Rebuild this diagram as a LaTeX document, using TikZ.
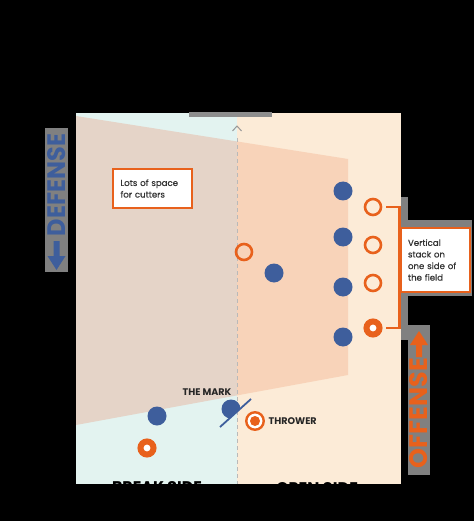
\documentclass[tikz,border=0pt]{standalone}
\usepackage{graphicx}
\usepackage{fontspec}
\setmainfont{Poppins}
\definecolor{tealbg}{HTML}{E3F3F0}
\definecolor{creambg}{HTML}{FCEBD7}
\definecolor{beigeov}{HTML}{E5D4C8}
\definecolor{peachov}{HTML}{F8D3B9}
\definecolor{pblue}{HTML}{3E5E9C}
\definecolor{porange}{HTML}{E8611C}
\definecolor{barg}{HTML}{808080}
\tikzset{
  bluedot/.style={circle,fill=pblue,minimum size=19pt,inner sep=0pt},
  oring/.style={circle,draw=porange,line width=2.6pt,minimum size=16pt,inner sep=0pt},
  obull/.style={circle,draw=porange,fill=white,line width=6pt,minimum size=13pt,inner sep=0pt},
  othrow/.style={circle,draw=porange,fill=white,line width=2.4pt,minimum size=17.5pt,inner sep=0pt},
  odot/.style={circle,fill=porange,minimum size=10pt,inner sep=0pt},
  callout/.style={draw=porange,line width=2pt,fill=white,align=left,anchor=north west,
    font=\fontsize{8.6}{11.6}\selectfont\addfontfeature{FakeBold=0.6},text=black!80},
  lbl/.style={font=\bfseries\fontsize{9.6}{10}\selectfont,text=black!85},
  bracket/.style={draw=porange,line width=2.4pt},
}
\begin{document}
\begin{tikzpicture}[x=1pt,y=-1pt]
\fill[black] (0,0) rectangle (474,521);
\useasboundingbox (0,0) rectangle (474,521);
% field
\fill[tealbg] (76,113) rectangle (237,484);
\fill[creambg] (237,113) rectangle (401,484);
\begin{scope}
\clip (76,113) rectangle (237,484);
\fill[beigeov] (76,116) -- (348,159) -- (348,375) -- (76,425) -- cycle;
\end{scope}
\begin{scope}
\clip (237,113) rectangle (401,484);
\fill[peachov] (76,116) -- (348,159) -- (348,375) -- (76,425) -- cycle;
\end{scope}
% top strip
\fill[barg!90] (189,112) rectangle (272,117);
% dashed center line and chevron
\coordinate (ctop) at (237,138);
\coordinate (cbot) at (237,484);
\draw[gray!55,line width=0.9pt,dash pattern=on 4pt off 3pt] (ctop) -- (cbot);
\draw[gray!80,line width=1pt] (232.5,131) -- (237,126) -- (241.5,131);
% gray bars
\fill[barg] (45,128) rectangle (68,272);
\fill[barg] (408,325) rectangle (430,475);
\fill[barg] (401,197) rectangle (408,340);
\fill[barg] (401,220) rectangle (472,296);
% defense label
\node[rotate=90,text=pblue,font=\bfseries,inner sep=0pt] (deftxt) at (56.5,185)
  {\resizebox{102pt}{18pt}{DEFENSE}};
\fill[pblue] (53.5,241) -- (59.5,241) -- (59.5,256) -- (65.5,256) -- (56.5,270)
  -- (47.5,256) -- (53.5,256) -- cycle;
% offense label
\node[rotate=90,text=porange,font=\bfseries,inner sep=0pt] (offtxt) at (419,413)
  {\resizebox{110pt}{18pt}{OFFENSE}};
\fill[porange] (416,357) -- (422,357) -- (422,345) -- (428,345) -- (419,331)
  -- (410,345) -- (416,345) -- cycle;
% bottom labels (mostly hidden)
\node[anchor=north,inner sep=0pt,font=\bfseries] (brk) at (157,481.5) {\resizebox{90pt}{12pt}{BREAK SIDE}};
\node[anchor=north,inner sep=0pt,font=\bfseries] (opn) at (317,482) {\resizebox{82pt}{12pt}{OPEN SIDE}};
% callouts
\node[callout,text width=64pt,inner xsep=7pt,minimum width=79pt,minimum height=39pt] (lots) at (112,168)
  {Lots of space\\for cutters};
% bracket
\coordinate (bt1) at (386,207);
\coordinate (bt2) at (399.5,207);
\coordinate (bb1) at (386,328);
\coordinate (bb2) at (399.5,328);
\draw[bracket] (bt1) -- (bt2) -- (bb2) -- (bb1);
\node[callout,text width=55pt,inner xsep=7pt,minimum width=69pt,minimum height=64pt] (vs) at (400,227)
  {Vertical\\stack on\\one side of\\the field};
% defenders
\node[bluedot] (d1) at (343,191) {};
\node[bluedot] (d2) at (343,237) {};
\node[bluedot] (d3) at (343,287) {};
\node[bluedot] (d4) at (343,337) {};
\node[bluedot] (d5) at (274,273) {};
\node[bluedot] (d6) at (157,416) {};
% offense
\node[oring] (o1) at (373,207) {};
\node[oring] (o2) at (373,245) {};
\node[oring] (o3) at (373,283) {};
\node[obull] (o4) at (373,328) {};
\node[oring] (o5) at (244,252) {};
\node[obull] (o6) at (147,448) {};
% thrower
\node[othrow] (thr) at (255,421) {};
\node[odot] (thrc) at (255,421) {};
\node[lbl,anchor=west,inner sep=0pt] (thrl) at (268.5,421) {THROWER};
% the mark
\coordinate (m1) at (220,427);
\coordinate (m2) at (251,399);
\begin{scope}
\clip (200,445) -- (220,427) -- (251,399) -- (270,381) -- (200,381) -- cycle;
\node[bluedot] (mark) at (231,409) {};
\end{scope}
\draw[pblue,line width=1.8pt] (m1) -- (m2);
\node[lbl,inner sep=0pt] (markl) at (207,392) {THE MARK};
\end{tikzpicture}
\end{document}
